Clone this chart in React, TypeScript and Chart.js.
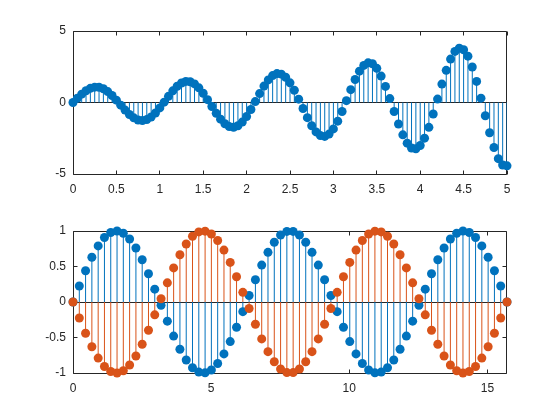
import React, { useEffect, useRef } from "react";
import { Chart, registerables } from "chart.js";

Chart.register(...registerables);

// ---------- Top subplot data ----------
const topX: number[] = [
  0, 0.05, 0.1, 0.15, 0.2, 0.25, 0.3, 0.35, 0.4, 0.45,
  0.5, 0.55, 0.6, 0.65, 0.7, 0.75, 0.8, 0.85, 0.9, 0.95,
  1, 1.05, 1.1, 1.15, 1.2, 1.25, 1.3, 1.35, 1.4, 1.45,
  1.5, 1.55, 1.6, 1.65, 1.7, 1.75, 1.8, 1.85, 1.9, 1.95,
  2, 2.05, 2.1, 2.15, 2.2, 2.25, 2.3, 2.35, 2.4, 2.45,
  2.5, 2.55, 2.6, 2.65, 2.7, 2.75, 2.8, 2.85, 2.9, 2.95,
  3, 3.05, 3.1, 3.15, 3.2, 3.25, 3.3, 3.35, 3.4, 3.45,
  3.5, 3.55, 3.6, 3.65, 3.7, 3.75, 3.8, 3.85, 3.9, 3.95,
  4, 4.05, 4.1, 4.15, 4.2, 4.25, 4.3, 4.35, 4.4, 4.45,
  4.5, 4.55, 4.6, 4.65, 4.7, 4.75, 4.8, 4.85, 4.9, 4.95,
  5,
];
const topY: number[] = [
  0, 0.300, 0.582, 0.819, 0.990, 1.075, 1.066, 0.959, 0.762, 0.489,
  0.164, -0.186, -0.530, -0.836, -1.075, -1.224, -1.266, -1.195, -1.012, -0.732,
  -0.377, 0.023, 0.433, 0.817, 1.138, 1.365, 1.475, 1.454, 1.301, 1.024,
  0.646, 0.198, -0.282, -0.751, -1.166, -1.487, -1.683, -1.732, -1.625, -1.368,
  -0.978, -0.487, 0.063, 0.624, 1.146, 1.579, 1.881, 2.022, 1.984, 1.764,
  1.377, 0.853, 0.235, -0.423, -1.062, -1.624, -2.056, -2.314, -2.369, -2.210,
  -1.847, -1.304, -0.626, 0.130, 0.897, 1.605, 2.190, 2.593, 2.773, 2.706,
  2.391, 1.849, 1.123, 0.272, -0.629, -1.501, -2.262, -2.841, -3.180, -3.240,
  -3.007, -2.494, -1.738, -0.801, 0.237, 1.285, 2.249, 3.036, 3.573, 3.800,
  3.690, 3.240, 2.482, 1.476, 0.304, -0.930, -2.118, -3.149, -3.926, -4.368,
  -4.428,
];
const topXTicks: number[] = [0, 0.5, 1, 1.5, 2, 2.5, 3, 3.5, 4, 4.5, 5];
const topXLabels: string[] = ["0", "0.5", "1", "1.5", "2", "2.5", "3", "3.5", "4", "4.5", "5"];
const topYTicks: number[] = [-5, 0, 5];
const topYLabels: string[] = ["-5", "0", "5"];

// ---------- Bottom subplot data ----------
const botX: number[] = [
  0, 0.228, 0.455, 0.683, 0.911, 1.138, 1.366, 1.594, 1.821, 2.049,
  2.277, 2.504, 2.732, 2.959, 3.187, 3.415, 3.642, 3.870, 4.098, 4.325,
  4.553, 4.781, 5.008, 5.236, 5.464, 5.691, 5.919, 6.147, 6.374, 6.602,
  6.830, 7.057, 7.285, 7.513, 7.740, 7.968, 8.196, 8.423, 8.651, 8.878,
  9.106, 9.334, 9.561, 9.789, 10.017, 10.244, 10.472, 10.700, 10.927, 11.155,
  11.383, 11.610, 11.838, 12.066, 12.293, 12.521, 12.749, 12.976, 13.204, 13.431,
  13.659, 13.887, 14.114, 14.342, 14.570, 14.797, 15.025, 15.253, 15.480, 15.708,
];
const botBlue: number[] = [
  0, 0.226, 0.440, 0.631, 0.790, 0.908, 0.979, 1.000, 0.969, 0.888,
  0.761, 0.595, 0.398, 0.181, -0.046, -0.270, -0.480, -0.666, -0.817, -0.926,
  -0.987, -0.998, -0.957, -0.866, -0.731, -0.558, -0.356, -0.136, 0.091, 0.313,
  0.520, 0.699, 0.842, 0.943, 0.994, 0.994, 0.943, 0.842, 0.699, 0.520,
  0.313, 0.091, -0.136, -0.356, -0.558, -0.731, -0.866, -0.957, -0.998, -0.987,
  -0.926, -0.817, -0.666, -0.480, -0.270, -0.046, 0.181, 0.398, 0.595, 0.761,
  0.888, 0.969, 1.000, 0.979, 0.908, 0.790, 0.631, 0.440, 0.226, 0,
];
const botOrange: number[] = [
  0, -0.226, -0.440, -0.631, -0.790, -0.908, -0.979, -1.000, -0.969, -0.888,
  -0.761, -0.595, -0.398, -0.181, 0.046, 0.270, 0.480, 0.666, 0.817, 0.926,
  0.987, 0.998, 0.957, 0.866, 0.731, 0.558, 0.356, 0.136, -0.091, -0.313,
  -0.520, -0.699, -0.842, -0.943, -0.994, -0.994, -0.943, -0.842, -0.699, -0.520,
  -0.313, -0.091, 0.136, 0.356, 0.558, 0.731, 0.866, 0.957, 0.998, 0.987,
  0.926, 0.817, 0.666, 0.480, 0.270, 0.046, -0.181, -0.398, -0.595, -0.761,
  -0.888, -0.969, -1.000, -0.979, -0.908, -0.790, -0.631, -0.440, -0.226, 0,
];
const botXTicks: number[] = [0, 5, 10, 15];
const botXLabels: string[] = ["0", "5", "10", "15"];
const botYTicks: number[] = [-1, -0.5, 0, 0.5, 1];
const botYLabels: string[] = ["-1", "-0.5", "0", "0.5", "1"];

const BLUE = "#0072BD";
const ORANGE = "#D95319";
const AXIS = "#262626";
const FONT = "'Liberation Sans', Arial, Helvetica, sans-serif";

const W = 560;
const H = 210;

type Series = { y: number[]; color: string };

const axesPlugin = {
  id: "matlabAxes",
  beforeDatasetsDraw(chart: any) {
    const { ctx, chartArea: a, scales } = chart;
    const xs = scales.x;
    const ys = scales.y;
    const L = Math.floor(a.left) + 0.5;
    const R = Math.floor(a.right) - 0.5;
    const T = Math.floor(a.top) + 0.5;
    const B = Math.floor(a.bottom) + 0.5;
    const tl = 4;
    ctx.save();
    ctx.strokeStyle = AXIS;
    ctx.lineWidth = 1;
    // baseline at y = 0
    const y0 = Math.floor(ys.getPixelForValue(0)) + 0.5;
    ctx.beginPath();
    ctx.moveTo(L, y0);
    ctx.lineTo(R, y0);
    ctx.stroke();
    // box
    ctx.beginPath();
    ctx.rect(L, T, R - L, B - T);
    ctx.stroke();
    // inward ticks
    ctx.beginPath();
    for (const t of xs.ticks) {
      const px = Math.floor(xs.getPixelForValue(t.value)) + 0.5;
      ctx.moveTo(px, B);
      ctx.lineTo(px, B - tl);
      ctx.moveTo(px, T);
      ctx.lineTo(px, T + tl);
    }
    for (const t of ys.ticks) {
      const py = Math.floor(ys.getPixelForValue(t.value)) + 0.5;
      ctx.moveTo(L, py);
      ctx.lineTo(L + tl, py);
      ctx.moveTo(R, py);
      ctx.lineTo(R - tl, py);
    }
    ctx.stroke();
    ctx.restore();
  },
};

function buildConfig(
  xs: number[],
  series: Series[],
  xMin: number,
  xMax: number,
  yMin: number,
  yMax: number,
  xTicks: number[],
  xLabels: string[],
  yTicks: number[],
  yLabels: string[],
  padTop: number,
  xAxisHeight: number
): any {
  const datasets: any[] = [];
  let order = series.length * 2;
  for (const s of series) {
    const pts = xs.map((x, i) => ({ x, y: s.y[i] }));
    datasets.push({
      type: "bar",
      data: pts,
      backgroundColor: s.color,
      borderWidth: 0,
      barThickness: 1,
      inflateAmount: 0,
      grouped: false,
      order: order--,
    });
    datasets.push({
      type: "scatter",
      data: pts,
      pointRadius: 4.5,
      pointHoverRadius: 4.5,
      pointBackgroundColor: s.color,
      pointBorderWidth: 0,
      showLine: false,
      clip: false,
      order: order--,
    });
  }
  const tickFont = { family: FONT, size: 12 };
  return {
    type: "bar",
    data: { datasets },
    options: {
      animation: false,
      responsive: false,
      maintainAspectRatio: false,
      devicePixelRatio: 1,
      events: [],
      layout: { padding: { top: padTop, right: W - 507, left: 0, bottom: 0 } },
      plugins: { legend: { display: false }, tooltip: { enabled: false } },
      scales: {
        x: {
          type: "linear",
          min: xMin,
          max: xMax,
          offset: false,
          grid: { display: false, drawTicks: false },
          border: { display: false },
          ticks: {
            padding: 8,
            color: AXIS,
            font: tickFont,
            maxRotation: 0,
            autoSkip: false,
            callback: (v: number) => {
              const i = xTicks.indexOf(v);
              return i >= 0 ? xLabels[i] : "";
            },
          },
          afterBuildTicks: (s: any) => {
            s.ticks = xTicks.map((value) => ({ value }));
          },
          afterFit: (s: any) => {
            s.height = xAxisHeight;
            s.paddingLeft = 0;
            s.paddingRight = 0;
          },
        },
        y: {
          type: "linear",
          min: yMin,
          max: yMax,
          grid: { display: false, drawTicks: false },
          border: { display: false },
          ticks: {
            padding: 7,
            color: AXIS,
            font: tickFont,
            autoSkip: false,
            callback: (v: number) => {
              const i = yTicks.indexOf(v);
              return i >= 0 ? yLabels[i] : "";
            },
          },
          afterBuildTicks: (s: any) => {
            s.ticks = yTicks.map((value) => ({ value }));
          },
          afterFit: (s: any) => {
            s.width = 73;
            s.paddingTop = 0;
            s.paddingBottom = 0;
          },
        },
      },
    },
    plugins: [axesPlugin],
  };
}

function StemPanel(props: { config: () => any; top: number }) {
  const ref = useRef<HTMLCanvasElement | null>(null);
  useEffect(() => {
    if (!ref.current) return;
    const chart = new Chart(ref.current, props.config());
    return () => chart.destroy();
  }, []);
  return (
    <canvas
      ref={ref}
      width={W}
      height={H}
      style={{ position: "absolute", left: 0, top: props.top, width: W, height: H, display: "block" }}
    />
  );
}

export default function App() {
  return (
    <div
      style={{
        position: "absolute",
        left: 0,
        top: 0,
        width: W,
        height: 420,
        background: "#ffffff",
        overflow: "hidden",
      }}
    >
      <StemPanel
        top={0}
        config={() =>
          buildConfig(
            topX,
            [{ y: topY, color: BLUE }],
            0,
            5,
            -5,
            5,
            topXTicks,
            topXLabels,
            topYTicks,
            topYLabels,
            31,
            H - 31 - 143
          )
        }
      />
      <StemPanel
        top={210}
        config={() =>
          buildConfig(
            botX,
            [
              { y: botBlue, color: BLUE },
              { y: botOrange, color: ORANGE },
            ],
            0,
            15.708,
            -1,
            1,
            botXTicks,
            botXLabels,
            botYTicks,
            botYLabels,
            21,
            H - 21 - 142
          )
        }
      />
    </div>
  );
}
